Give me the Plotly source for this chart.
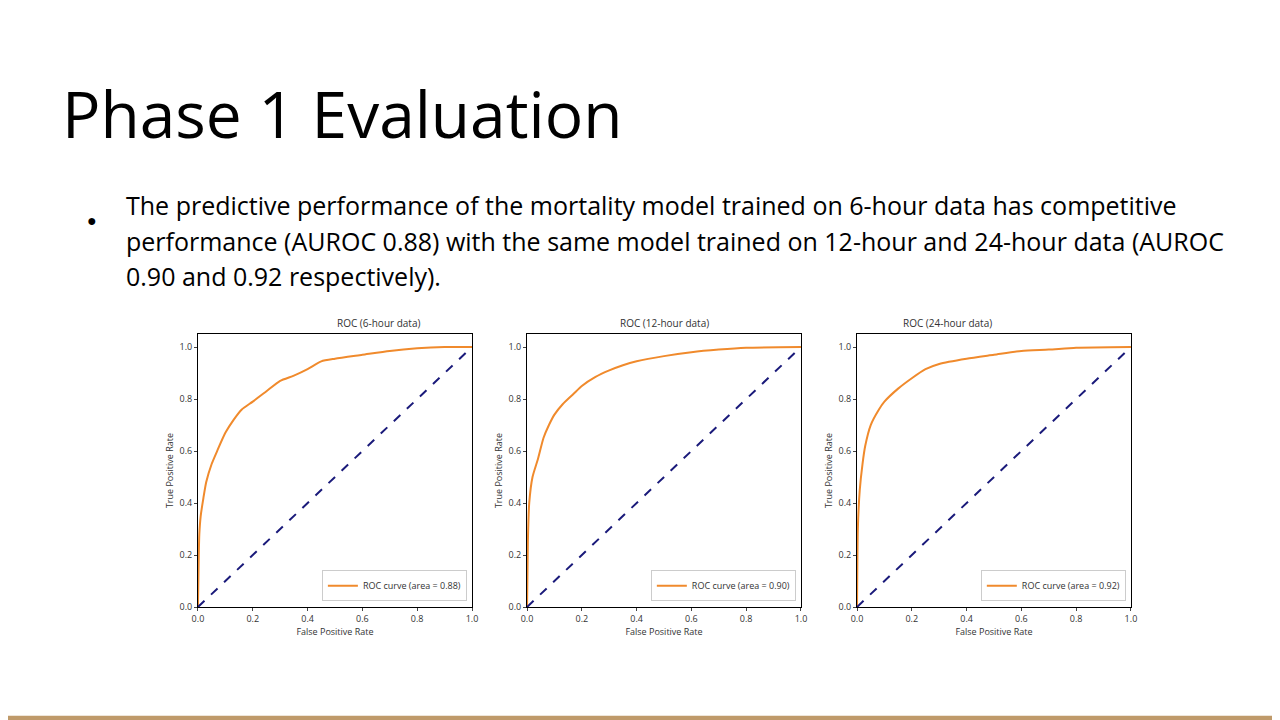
import plotly.graph_objects as go

# ROC curve points
fpr_6h = [0, 0.003, 0.005, 0.01, 0.02, 0.03, 0.05, 0.07, 0.1, 0.13, 0.16, 0.2, 0.25, 0.3, 0.35, 0.4, 0.45, 0.5, 0.6, 0.7, 0.8, 0.9, 1.0]
tpr_6h = [0, 0.2, 0.28, 0.35, 0.42, 0.48, 0.55, 0.6, 0.67, 0.72, 0.76, 0.79, 0.83, 0.87, 0.89, 0.915, 0.945, 0.955, 0.97, 0.985, 0.995, 1.0, 1.0]
fpr_12h = [0, 0.003, 0.008, 0.02, 0.04, 0.06, 0.08, 0.1, 0.13, 0.17, 0.2, 0.25, 0.3, 0.35, 0.4, 0.5, 0.6, 0.7, 0.8, 1.0]
tpr_12h = [0, 0.25, 0.4, 0.5, 0.57, 0.65, 0.7, 0.74, 0.78, 0.82, 0.85, 0.885, 0.91, 0.93, 0.945, 0.965, 0.98, 0.99, 0.997, 1.0]
fpr_24h = [0, 0.003, 0.01, 0.02, 0.03, 0.05, 0.08, 0.1, 0.15, 0.2, 0.25, 0.3, 0.4, 0.5, 0.6, 0.7, 0.8, 1.0]
tpr_24h = [0, 0.3, 0.45, 0.55, 0.62, 0.7, 0.76, 0.79, 0.84, 0.88, 0.915, 0.935, 0.955, 0.97, 0.985, 0.99, 0.997, 1.0]

panels = [
    ("ROC (6-hour data)", fpr_6h, tpr_6h, 0.88, (0.1484, 0.3625)),
    ("ROC (12-hour data)", fpr_12h, tpr_12h, 0.90, (0.4055, 0.6195)),
    ("ROC (24-hour data)", fpr_24h, tpr_24h, 0.92, (0.6633, 0.8773)),
]
ydom = [0.168, 0.5472]
ticks = [0, 0.2, 0.4, 0.6, 0.8, 1.0]
ticktext = ["0.0", "0.2", "0.4", "0.6", "0.8", "1.0"]
bullet_lines = [
    "The predictive performance of the mortality model trained on 6-hour data has competitive",
    "performance (AUROC 0.88) with the same model trained on 12-hour and 24-hour data (AUROC",
    "0.90 and 0.92 respectively).",
]

fig = go.Figure()
layout = {}
annotations = []
for i, (title, fpr, tpr, auc, xdom) in enumerate(panels, start=1):
    sfx = "" if i == 1 else str(i)
    leg = "legend" if i == 1 else "legend" + str(i)
    fig.add_trace(go.Scatter(x=fpr, y=tpr, mode="lines", line=dict(color="#f08a2c", width=2, shape="spline", smoothing=0.6),
                             name="ROC curve (area = %.2f)" % auc, xaxis="x" + sfx, yaxis="y" + sfx, legend=leg))
    fig.add_trace(go.Scatter(x=[0, 1], y=[0, 1], mode="lines", line=dict(color="#1a1a7a", width=2, dash="dash"),
                             showlegend=False, xaxis="x" + sfx, yaxis="y" + sfx))
    ax = dict(showgrid=False, zeroline=False, showline=True, mirror=True, linecolor="black", linewidth=1,
              ticks="outside", ticklen=3, tickvals=ticks, ticktext=ticktext, tickfont=dict(size=9, color="#333"))
    layout["xaxis" + sfx] = dict(ax, domain=list(xdom), range=[0, 1.0], anchor="y" + sfx,
                                 title=dict(text="False Positive Rate", font=dict(size=9, color="#333"), standoff=2))
    layout["yaxis" + sfx] = dict(ax, domain=ydom, range=[0, 1.05], anchor="x" + sfx,
                                 title=dict(text="True Positive Rate", font=dict(size=9, color="#333"), standoff=4))
    layout[leg] = dict(x=xdom[1] - 0.004, y=ydom[0] + 0.008, xanchor="right", yanchor="bottom",
                       bordercolor="#ccc", borderwidth=1, bgcolor="white", font=dict(size=9, color="#333"))
    annotations.append(dict(text=title, x=(xdom[0] + xdom[1]) / 2, y=ydom[1], xref="paper", yref="paper",
                            yanchor="bottom", yshift=2, showarrow=False, font=dict(size=10, color="#333")))

annotations.append(dict(text="Phase 1 Evaluation", x=0.041, y=0.854, xref="paper", yref="paper",
                        xanchor="left", yanchor="middle", showarrow=False,
                        font=dict(family="Open Sans", size=64, color="black")))
annotations.append(dict(text="●", x=0.060, y=0.724, xref="paper", yref="paper", showarrow=False,
                        font=dict(family="Open Sans", size=16, color="black")))
for k, line in enumerate(bullet_lines):
    annotations.append(dict(text=line, x=0.0905, y=0.726 - k * 0.0493, xref="paper", yref="paper",
                            xanchor="left", yanchor="middle", showarrow=False,
                            font=dict(family="Open Sans", size=25, color="black")))

fig.update_layout(**layout)
fig.update_layout(width=1280, height=720, margin=dict(l=0, r=0, t=0, b=0, autoexpand=False),
                  paper_bgcolor="white", plot_bgcolor="white", annotations=annotations,
                  shapes=[dict(type="rect", xref="paper", yref="paper", x0=0, x1=1, y0=0, y1=0.017,
                               fillcolor="#bf9a6a", line=dict(width=0))])
fig.write_html("out.html")
